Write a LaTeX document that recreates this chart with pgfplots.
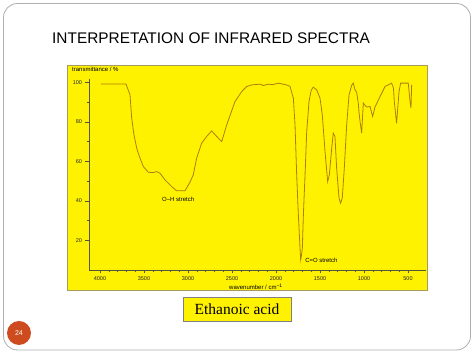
\documentclass[border=0pt]{standalone}
\usepackage{pgfplots}
\pgfplotsset{compat=1.18}
\usepackage{fontspec}
\setmainfont{Liberation Sans}
\newfontfamily\seriffont{Liberation Serif}
\definecolor{trace}{RGB}{175,125,10}
\definecolor{axcol}{RGB}{85,85,55}
\definecolor{ybord}{RGB}{165,155,95}
\definecolor{framecol}{RGB}{175,175,175}
\definecolor{pagecol}{RGB}{205,75,30}
\begin{document}
\begin{tikzpicture}
\useasboundingbox (0pt,0pt) rectangle (474pt,355pt);
\fill[white] (0pt,0pt) rectangle (474pt,355pt);
\draw[framecol, line width=0.8pt, rounded corners=14pt] (3.5pt,5pt) rectangle (470.5pt,351.5pt);
\node[anchor=west, font=\fontsize{15.4}{18}\selectfont, inner sep=0pt] at (52pt,317pt) {INTERPRETATION OF INFRARED SPECTRA};
\fill[yellow] (67pt,65pt) rectangle (427pt,290pt);
\draw[ybord, line width=0.6pt] (67pt,65pt) rectangle (427pt,290pt);
\begin{axis}[at={(89pt,85pt)}, anchor=south west, scale only axis,
  width=337.5pt, height=190.6pt,
  xmin=290, xmax=4125, ymin=5, ymax=101.5, x dir=reverse,
  axis x line*=bottom, axis y line*=left,
  axis line style={axcol, line width=0.6pt},
  tick style={axcol, line width=0.5pt},
  tick align=outside, major tick length=3.5pt, minor tick length=1.8pt,
  xtick={500,1000,...,4000}, minor x tick num=4,
  ytick={20,40,60,80,100}, minor y tick num=1,
  ticklabel style={font=\fontsize{5.5}{6}\selectfont, text=black!85},
  /pgf/number format/assume math mode=true,
  /pgf/number format/1000 sep={},
  clip=false]
\addplot[trace, line width=0.8pt, mark=none] coordinates {
(3990,99.2) (3705,99.2) (3659,93.7) (3640,82) (3614,73.4) (3583,66.7)
(3545,61.6) (3508,57.4) (3451,54.5) (3400,54.3) (3356,54.8) (3318,54)
(3261,50.6) (3185,47.2) (3129,45.1) (3034,45.1) (2977,49.5) (2940,53.2)
(2902,61.6) (2845,69.2) (2788,72.6) (2731,75.4) (2674,72.6) (2617,70)
(2560,78.5) (2466,90.3) (2390,95.3) (2333,97.9) (2276,98.7) (2182,99.1)
(2144,98.4) (2087,99.1) (2040,98.8) (1974,99.6) (1880,98.7) (1841,98)
(1803,92) (1784,78.5) (1765,53.2) (1746,32.9) (1727,16) (1720,10.1)
(1712,12) (1701,16) (1689,32.9) (1670,53.2) (1651,75.1) (1625,90.3)
(1600,96) (1577,97.6) (1538,96.2) (1500,92) (1474,83.5) (1443,65)
(1413,49.8) (1394,53.2) (1367,66.7) (1349,74.3) (1330,72.6) (1311,56.5)
(1284,41.4) (1266,38.8) (1247,41.4) (1224,56.5) (1197,78.5) (1170,93.7)
(1140,98.5) (1122,99.6) (1102,96.2) (1084,95) (1065,89.5) (1057,85)
(1045,80.2) (1027,74.3) (1008,89.5) (990,88.5) (970,87.5) (932,87.8)
(902,82.7) (875,87.5) (818,92.8) (761,97.9) (686,99.6) (665,97)
(656,90.3) (630,79.3) (602,95.3) (584,99.6) (497,99.6) (477,90.3)
(466,87) (459,98.7)
};
\node[anchor=west, font=\fontsize{6}{7}\selectfont, inner sep=0pt] at (axis cs:3295,41) {O–H stretch};
\node[anchor=west, font=\fontsize{6}{7}\selectfont, inner sep=0pt] at (axis cs:1670,10) {C=O stretch};
\end{axis}
\node[anchor=west, font=\fontsize{6}{7}\selectfont, inner sep=0pt] at (72pt,286pt) {transmittance / \%};
\node[font=\fontsize{6}{7}\selectfont, inner sep=0pt] at (256pt,68pt) {wavenumber / cm\textsuperscript{−1}};
\node[draw=gray, line width=0.6pt, fill=yellow, minimum width=108pt, minimum height=24pt, inner sep=0pt, font=\seriffont\fontsize{15.5}{18}\selectfont] at (237pt,46pt) {Ethanoic acid};
\fill[pagecol] (19pt,22pt) circle (12pt);
\node[text=white, font=\fontsize{7}{8}\selectfont] at (19pt,22pt) {24};
\end{tikzpicture}
\end{document}
